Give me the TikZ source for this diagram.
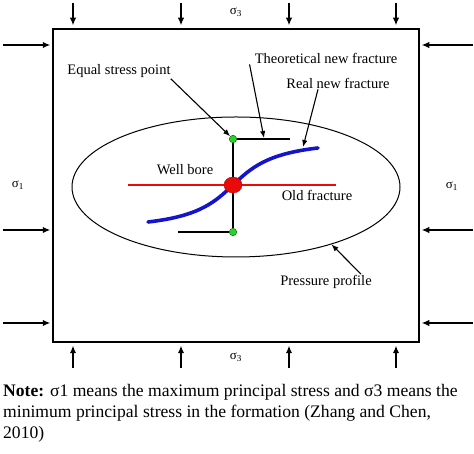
\documentclass[tikz,border=0pt]{standalone}
\usepackage{fontspec}
\setmainfont{Liberation Serif}
\usetikzlibrary{arrows.meta,positioning,shapes.geometric,calc}
\definecolor{borered}{RGB}{235,10,10}
\definecolor{fracblue}{RGB}{20,20,205}
\definecolor{dotgreen}{RGB}{40,210,40}

\begin{document}
\begin{tikzpicture}[x=1pt, y=1pt,
  lbl/.style={font=\fontsize{14.5}{16}\selectfont, inner sep=1pt},
  sig/.style={font=\fontsize{13}{15}\selectfont, inner sep=1pt},
  load/.style={-{Latex[length=7.5pt,width=6.5pt]}, line width=1.3pt},
  pointer/.style={-{Latex[length=7pt,width=5.5pt]}, line width=1.1pt},
  dot/.style={circle, fill=dotgreen, draw=green!35!black, line width=0.4pt, inner sep=0pt, minimum size=7.5pt},
]
  \useasboundingbox (0,0) rectangle (474,454);

  % rock block and pressure profile
  \node[draw, line width=1.5pt, minimum width=366pt, minimum height=313pt, inner sep=0pt] (box) at (236,268.5) {};
  \node[draw, ellipse, line width=1pt, minimum width=328pt, minimum height=140pt, inner sep=0pt] (ell) at (236,267) {};

  % far-field stresses
  \foreach \x [count=\i] in {73,181,289,396} {
    \coordinate (t\i) at (\x,451);
    \coordinate (b\i) at (\x,86);
    \draw[load] (t\i) -- ([yshift=3pt]t\i |- box.north);
    \draw[load] (b\i) -- ([yshift=-3pt]b\i |- box.south);
  }
  \foreach \y [count=\i] in {409,224,131} {
    \coordinate (l\i) at (3,\y);
    \coordinate (r\i) at (473,\y);
    \draw[load] (l\i) -- ([xshift=-2pt]l\i -| box.west);
    \draw[load] (r\i) -- ([xshift=2pt]r\i -| box.east);
  }
  \node[sig] (s3t) at (236,442) {σ\textsubscript{3}};
  \node[sig] (s3b) at (236,97)  {σ\textsubscript{3}};
  \node[sig] (s1l) at (18,269)  {σ\textsubscript{1}};
  \node[sig] (s1r) at (452,268) {σ\textsubscript{1}};

  % fractures
  \coordinate (ofl) at (128,269);
  \coordinate (ofr) at (336,269);
  \draw[borered, line width=1.7pt] (ofl) -- (ofr);

  \coordinate (rnl) at (148,232);
  \coordinate (rnr) at (318,306);
  \coordinate (c0) at (233,269);
  \draw[fracblue, line width=3.6pt, line cap=round]
    (rnl) .. controls (200,238) and (215,252) .. (c0)
          .. controls (251,286) and (266,300) .. (rnr);

  \coordinate (tnr) at (290,315);
  \coordinate (tnl) at (178,222);
  \node[dot] (gt) at (233,315) {};
  \node[dot] (gb) at (233,222) {};
  \draw[line width=1.7pt] (gt) -- (gb);
  \draw[line width=1.7pt] (gt) -- (tnr);
  \draw[line width=1.7pt] (tnl) -- (gb);

  \node[ellipse, fill=borered, draw=red!70!black, line width=0.4pt, inner sep=0pt, minimum width=18pt, minimum height=16pt] (wb) at (233,269) {};

  % labels
  \node[lbl] (esp) at (119,383) {Equal stress point};
  \node[lbl] (tnf) at (326,396) {Theoretical new fracture};
  \node[lbl] (rnf) at (338,371) {Real new fracture};
  \node[lbl] (wbl) at (185,284) {Well bore};
  \node[lbl] (ofl2) at (317,259) {Old fracture};
  \node[lbl] (ppl) at (326,172) {Pressure profile};

  \coordinate (tnp) at (264,316);
  \coordinate (rnp) at (303,307);
  \draw[pointer] ([xshift=-1pt]esp.south east) -- (gt);
  \draw[pointer] ([xshift=-4pt]tnf.south west) -- (tnp);
  \draw[pointer] ([xshift=-20pt]rnf.south) -- (rnp);
  \draw[pointer] ([xshift=35pt]ppl.north) -- (ell.-31);

  % note
  \node[anchor=north west, align=left, inner sep=0pt, font=\fontsize{17.6}{21}\selectfont] (note) at (3,70)
    {\textbf{Note:} σ1 means the maximum principal stress and σ3 means the\\
     minimum principal stress in the formation (Zhang and Chen,\\
     2010)};
\end{tikzpicture}
\end{document}
